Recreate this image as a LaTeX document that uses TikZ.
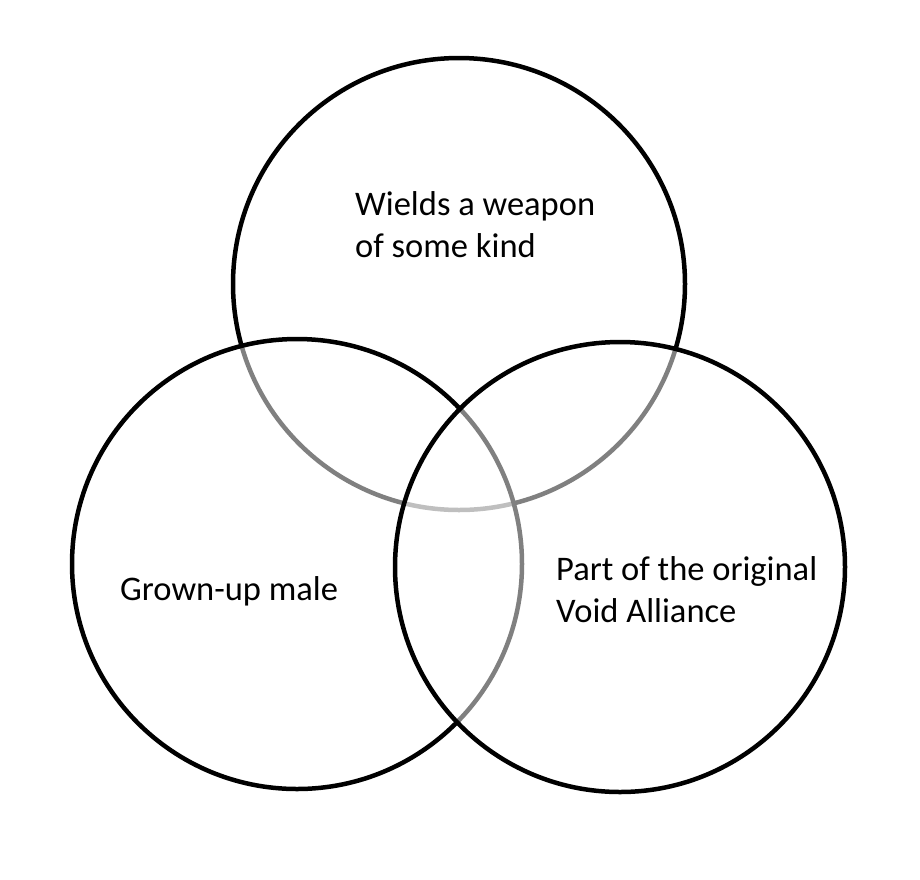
\documentclass[tikz,border=0pt]{standalone}
\usepackage{fontspec}
\setmainfont{Carlito}
\begin{document}
\begin{tikzpicture}[x=1pt,y=-1pt,
  ring/.style={draw=black,line width=4.5pt,fill=white,fill opacity=0.5},
  lbl/.style={anchor=base west,inner sep=0pt,align=left,font=\fontsize{34.5}{42}\selectfont}]
\useasboundingbox (0,0) rectangle (920,879);
\fill[white] (0,0) rectangle (920,879);
\path[ring] (459,284) circle[radius=226];
\path[ring] (297,564) circle[radius=225];
\path[ring] (620,567) circle[radius=225];
\node[lbl] (weapon) at (355,257) {Wields a weapon\\of some kind};
\node[lbl] (male) at (120,600) {Grown-up male};
\node[lbl] (void) at (556,622) {Part of the original\\Void Alliance};
\end{tikzpicture}
\end{document}
